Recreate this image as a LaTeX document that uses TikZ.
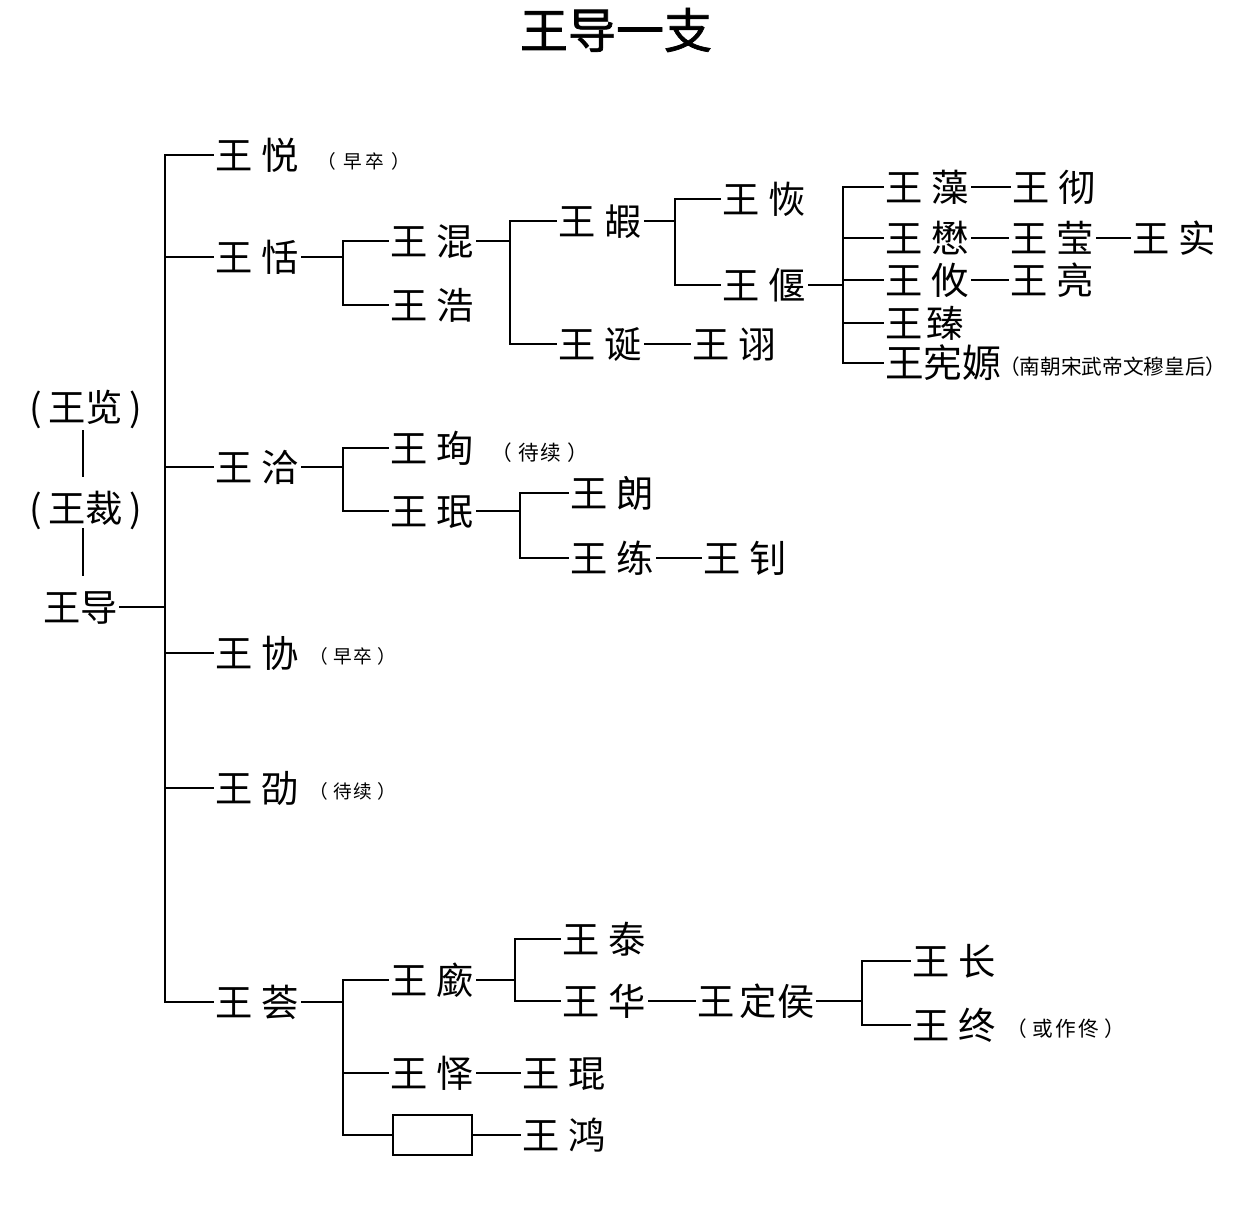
\documentclass[tikz,border=0pt]{standalone}
\usepackage{fontspec}
\setmainfont{Noto Sans CJK SC}
\newfontfamily\ttlfont[FakeBold=1.5]{Noto Sans CJK SC}
\newcommand\gw{\hspace{7pt}}
\begin{document}
\begin{tikzpicture}[x=0.75pt,y=-0.75pt,
  nm/.style={anchor=west, inner sep=1.5pt, text height=22pt, text depth=1pt, font=\fontsize{28}{30}\selectfont},
  pn/.style={anchor=center, inner sep=0pt, text height=22pt, text depth=1pt, font=\fontsize{28}{30}\selectfont},
  note/.style={anchor=west, inner sep=0pt, font=\fontsize{14}{16}\selectfont},
  bignote/.style={anchor=west, inner sep=0pt, font=\fontsize{15.5}{17}\selectfont},
  ttl/.style={font=\fontsize{36}{40}\selectfont\ttlfont},
  ln/.style={line width=1.4pt, line cap=rect},
  emptybox/.style={draw, line width=1.2pt, minimum width=59pt, minimum height=30pt, inner sep=0pt}
]
\path[use as bounding box, fill=white] (0,0) rectangle (1254,1214);

\node[ttl] (title) at (616,30) {王导一支};

% ancestors
\node[pn] (lan) at (86,407) {(\hspace{5pt}王览\hspace{5pt})};
\node[pn] (cai) at (86,508) {(\hspace{5pt}王裁\hspace{5pt})};
\node[nm] (dao) at (41,607) {王导};

% sons of Wang Dao
\node[nm] (yue) at (213,155) {王\gw 悦};
\node[note] (yuen) at (317,161) {（\hspace{6pt}早\hspace{2pt}卒\hspace{6pt}）};
\node[nm] (tian) at (213,257) {王\gw 恬};
\node[nm] (qia) at (213,467) {王\gw 洽};
\node[nm] (xie) at (213,653) {王\gw 协};
\node[note] (xien) at (309,656) {（\hspace{4pt}早\hspace{1pt}卒\hspace{4pt}）};
\node[nm] (shao) at (213,788) {王\gw 劭};
\node[note] (shaon) at (309,791) {（\hspace{4pt}待\hspace{1pt}续\hspace{4pt}）};
\node[nm] (hui2) at (213,1002) {王\gw 荟};

% Wang Tian line
\node[nm] (hun) at (388,241) {王\gw 混};
\node[nm] (hao) at (388,305) {王\gw 浩};
\node[nm] (gu) at (556,221) {王\gw 嘏};
\node[nm] (dan) at (556,344) {王\gw 诞};
\node[nm] (xu) at (690,344) {王\gw 诩};
\node[nm] (hui) at (720,199) {王\gw 恢};
\node[nm] (yan) at (720,285) {王\gw 偃};
\node[nm] (zao) at (883,187) {王\gw 藻};
\node[nm] (che) at (1010,187) {王\gw 彻};
\node[nm] (mao) at (883,238) {王\gw 懋};
\node[nm] (ying) at (1008,238) {王\gw 莹};
\node[nm] (shi) at (1130,238) {王\gw 实};
\node[nm] (you) at (883,280) {王\gw 攸};
\node[nm] (liang) at (1008,280) {王\gw 亮};
\node[nm] (zhen) at (883,323) {王\hspace{3pt}臻};
\node[nm, font=\fontsize{29}{31}\selectfont] (xy) at (883,363) {王宪嫄};
\node[bignote] (xyn) at (999,367) {（南朝宋武帝文穆皇后）};

% Wang Qia line
\node[nm] (xun) at (388,448) {王\gw 珣};
\node[bignote] (xunn) at (491,453) {（\hspace{5pt}待\hspace{1pt}续\hspace{5pt}）};
\node[nm] (min) at (388,511) {王\gw 珉};
\node[nm] (lang) at (568,493) {王\gw 朗};
\node[nm] (lian) at (568,558) {王\gw 练};
\node[nm] (zhao) at (701,558) {王\gw 钊};

% Wang Hui line
\node[nm] (xin) at (388,980) {王\gw 廞};
\node[nm] (tai) at (560,939) {王\gw 泰};
\node[nm] (hua) at (560,1001) {王\gw 华};
\node[nm] (dh) at (695,1001) {王\hspace{4pt}定侯};
\node[nm] (chang) at (910,961) {王\gw 长};
\node[nm] (zhong) at (910,1025) {王\gw 终};
\node[bignote] (zhongn) at (1006,1029) {（\hspace{4pt}或\hspace{2pt}作\hspace{2pt}佟\hspace{4pt}）};
\node[nm] (yi) at (388,1073) {王\gw 怿};
\node[nm] (kun) at (520,1073) {王\gw 琨};
\node[emptybox] (box) at (432.5,1135) {};
\node[nm] (hong) at (520,1135) {王\gw 鸿};

% bracket coordinates
\coordinate (tk) at (165,607);
\coordinate (b1) at (343,257);
\coordinate (b2) at (510,241);
\coordinate (b3) at (675,221);
\coordinate (b4) at (843,285);
\coordinate (b5) at (343,467);
\coordinate (b6) at (520,511);
\coordinate (b7) at (343,1002);
\coordinate (b8) at (515,980);
\coordinate (b9) at (862,1001);

% ancestors
\draw[ln, line cap=butt, shorten <=5.6pt, shorten >=11.6pt] ([xshift=-2.25pt]lan.south) -- ([xshift=-2.25pt]cai.north);
\draw[ln, line cap=butt, shorten <=3.4pt] ([xshift=-2.25pt]cai.south) -- ([xshift=-2.25pt]cai.south |- 0,576);

% trunk
\draw[ln] (dao.east) -- (tk);
\draw[ln] (yue.west) -| (tk) |- (hui2.west);
\foreach \n in {tian,qia,xie,shao} \draw[ln] (\n.west) -- (\n.west -| tk);

% brackets
\draw[ln] (tian.east) -- (b1);
\draw[ln] (hun.west) -| (b1) |- (hao.west);
\draw[ln] (hun.east) -- (b2);
\draw[ln] (gu.west) -| (b2) |- (dan.west);
\draw[ln] (gu.east) -- (b3);
\draw[ln] (hui.west) -| (b3) |- (yan.west);
\draw[ln] (yan.east) -- (b4);
\draw[ln] (zao.west) -| (b4) |- (xy.west);
\foreach \n in {mao,you,zhen} \draw[ln] (\n.west) -- (\n.west -| b4);
\draw[ln] (qia.east) -- (b5);
\draw[ln] (xun.west) -| (b5) |- (min.west);
\draw[ln] (min.east) -- (b6);
\draw[ln] (lang.west) -| (b6) |- (lian.west);
\draw[ln] (hui2.east) -- (b7);
\draw[ln] (xin.west) -| (b7) |- (box.west);
\draw[ln] (yi.west) -- (yi.west -| b7);
\draw[ln] (xin.east) -- (b8);
\draw[ln] (tai.west) -| (b8) |- (hua.west);
\draw[ln] (dh.east) -- (b9);
\draw[ln] (chang.west) -| (b9) |- (zhong.west);

% dashes
\draw[ln] (zao.east) -- (che.west);
\draw[ln] (mao.east) -- (ying.west);
\draw[ln] (ying.east) -- (shi.west);
\draw[ln] (you.east) -- (liang.west);
\draw[ln] (dan.east) -- (xu.west);
\draw[ln] (lian.east) -- (zhao.west);
\draw[ln] (hua.east) -- (dh.west);
\draw[ln] (yi.east) -- (kun.west);
\draw[ln] (box.east) -- (hong.west);
\end{tikzpicture}
\end{document}
